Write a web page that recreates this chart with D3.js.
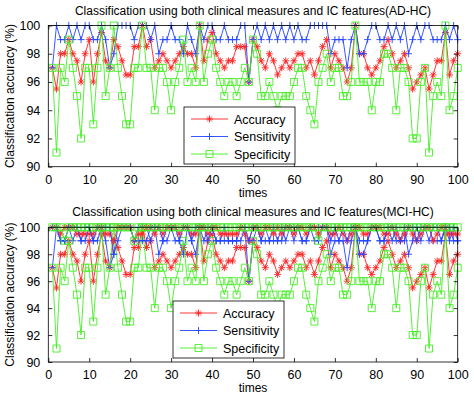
<!DOCTYPE html>
<html lang="en">
<head>
  <meta charset="UTF-8">
  <title>Classification accuracy</title>
  <style>
    body { margin: 0; background: #fff; }
    svg text { font-family: "Liberation Sans", Arial, sans-serif; fill: #000; }
  </style>
</head>
<body>
  <svg id="chart" width="474" height="399"></svg>

  <script src="https://d3js.org/d3.v7.min.js"></script>
  <script>
    // x values and labels
    const times = d3.range(1, 101);
    const xTicks = [0, 10, 20, 30, 40, 50, 60, 70, 80, 90, 100];
    const yTicks = [90, 92, 94, 96, 98, 100];
    const seriesNames = ["Accuracy", "Sensitivity", "Specificity"];
    const titles = [
      "Classification using both clinical measures and IC features(AD-HC)",
      "Classification using both clinical measures and IC features(MCI-HC)"
    ];

    // AD-HC run
    const adAccuracy = [97,95.5,98,98,99,98,97.5,96,98,99,
      96,98,99.5,97.5,97,99,98.5,97.5,96.5,96.5,
      98.5,98.5,100,98.5,99,97,97.5,98,97.5,97,
      97.5,98,98.5,98,98,97,100,97.5,99,99.5,
      98,97.5,97,97.5,97.5,98.5,98.5,98.5,96,99,
      98.5,97.5,97,98,97.5,96.5,97,97.5,97,97.5,
      98,98,97,97.5,96.5,97.5,98.5,99,97,98,
      97.5,97,96,97,100,98,98,97,96.5,97,
      97.5,98.5,99,98,97,97.5,98,97,95.5,96,
      96.5,97,95.5,96.5,97.5,97.5,99.5,96.5,97.5,98];
    const adSensitivity = [97,100,99,99,100,99,100,99,100,100,
      99,99,100,99,97,98,100,100,100,100,
      99,100,100,100,99,100,98,99,99,100,
      99,99,98,100,99,98,100,99,100,100,
      99,99,100,99,99,99,100,100,96,99,
      100,99,100,99,100,99,100,99,100,99,
      100,99,99,100,100,100,100,100,98,99,
      99,99,97,99,100,98,98,99,100,100,
      99,99,100,99,100,99,100,98,99,100,
      99,100,100,99,99,99,100,99,100,99];
    const adSpecificity = [97,91,97,96,99,97,95,92,97,97,
      93,97,100,95,97,100,97,95,93,93,
      97,97,100,97,97,94,97,97,96,94,
      96,97,99,96,97,96,100,96,98,99,
      97,96,95,96,96,95,96,97,96,99,
      98,95,95,96,95,94,95,95,95,96,
      97,97,95,94,93,96,97,98,96,97,
      97,95,95,96,100,96,96,96,94,96,
      96,98,98,97,94,97,97,96,92,92,
      96,97,91,95,96,95,100,94,95,97];

    // MCI-HC run (drawn on the bottom panel over the AD-HC lines)
    const mciAccuracy = [100,100,99.5,100,100,100,99.5,99.5,99.5,99.5,
      99.5,100,100,99.5,99.5,99,100,100,100,100,
      99,99.5,99.5,100,100,99.5,100,99.5,100,100,
      100,99.5,100,100,99.5,99.5,100,100,99.5,100,
      100,99.5,99.5,99.5,99.5,99.5,100,99.5,99,100,
      100,99.5,100,100,99.5,100,99.5,100,100,99.5,
      100,100,99.5,100,100,99.5,100,100,99.5,99.5,
      100,99.5,99,99.5,100,100,99.5,99.5,100,100,
      100,99.5,99.5,100,99.5,99,99.5,100,99.5,99,
      99.5,100,100,99,99.5,100,100,99.5,99.5,99.5];
    const mciSensitivity = [100,100,99,99,100,100,100,99,99,100,
      99,100,100,100,100,98,99,100,100,100,
      99,99,99,99,100,100,100,99,100,100,
      100,99,100,100,99,100,100,100,99,100,
      99,99,99,99,99,99,99,100,99,100,
      100,99,99,99,99,99,99,100,100,100,
      100,99,99,100,99,99,100,100,99,100,
      99,100,99,100,100,99,99,99,100,100,
      99,99,100,100,99,99,99,100,100,99,
      100,100,99,100,100,99,100,100,99,99];
    const mciSpecificity = [100,100,100,99,100,100,100,100,100,100,
      100,100,100,100,100,100,100,100,100,100,
      99,100,100,100,100,100,100,100,100,100,
      100,100,100,100,100,100,100,100,100,100,
      100,100,100,100,100,100,100,100,100,100,
      100,100,100,100,100,100,100,100,100,100,
      100,100,100,100,100,99,100,100,100,100,
      100,100,100,100,100,100,100,100,100,100,
      100,100,100,100,100,100,100,100,100,100,
      100,100,100,100,100,100,100,100,100,100];

    const styles = [
      { color: "#ff2222", marker: "star" },
      { color: "#2244ff", marker: "plus" },
      { color: "#44ee22", marker: "square" }
    ];

    const svg = d3.select("#chart");
    const x = d3.scaleLinear().domain([0, 100]).range([48.3, 457.7]);

    function markerPath(type) {
      const r = 3.5, a = 2.5;
      if (type === "star") return `M${-r},0L${r},0M0,${-r}L0,${r}M${-a},${-a}L${a},${a}M${-a},${a}L${a},${-a}`;
      if (type === "plus") return `M${-r},0L${r},0M0,${-r}L0,${r}`;
      return `M-3.5,-3.5H3.5V3.5H-3.5Z`;
    }

    function drawSeries(g, y, values, style) {
      const line = d3.line().x((d, i) => x(times[i])).y(d => y(d));
      g.append("path")
        .attr("d", line(values))
        .attr("fill", "none")
        .attr("stroke", style.color)
        .attr("stroke-width", 0.9);
      g.append("g")
        .selectAll("path")
        .data(values)
        .join("path")
        .attr("transform", (d, i) => `translate(${x(times[i])},${y(d)})`)
        .attr("d", markerPath(style.marker))
        .attr("fill", "none")
        .attr("stroke", style.color)
        .attr("stroke-width", 0.9);
    }

    function drawPanel(top, bottom, title, runs, legend) {
      const y = d3.scaleLinear().domain([90, 100]).range([bottom, top]);
      const g = svg.append("g");

      // data first, axes box drawn on top
      runs.forEach(run => run.forEach((values, k) => drawSeries(g, y, values, styles[k])));

      const axes = svg.append("g").attr("font-size", 11);
      axes.append("rect")
        .attr("x", x(0)).attr("y", y(100))
        .attr("width", x(100) - x(0)).attr("height", y(90) - y(100))
        .attr("fill", "none").attr("stroke", "#000").attr("stroke-width", 0.8);

      const xb = axes.append("g").attr("transform", `translate(0,${y(90)})`)
        .call(d3.axisBottom(x).tickValues(xTicks).tickSizeInner(-4).tickSizeOuter(0).tickPadding(8));
      const xt = axes.append("g").attr("transform", `translate(0,${y(100)})`)
        .call(d3.axisTop(x).tickValues(xTicks).tickSizeInner(-4).tickSizeOuter(0).tickFormat(""));
      const yl = axes.append("g").attr("transform", `translate(${x(0)},0)`)
        .call(d3.axisLeft(y).tickValues(yTicks).tickSizeInner(-4).tickSizeOuter(0).tickPadding(8));
      const yr = axes.append("g").attr("transform", `translate(${x(100)},0)`)
        .call(d3.axisRight(y).tickValues(yTicks).tickSizeInner(-4).tickSizeOuter(0).tickFormat(""));
      [xb, xt, yl, yr].forEach(a => {
        a.select(".domain").remove();
        a.selectAll("text").attr("font-size", 12.5).attr("fill", "#000")
          .attr("font-family", "Liberation Sans, Arial, sans-serif");
        a.selectAll("line").attr("stroke", "#000").attr("stroke-width", 0.8);
      });

      axes.append("text")
        .attr("x", 253).attr("y", top - 11)
        .attr("text-anchor", "middle").attr("font-size", 12)
        .text(title);
      axes.append("text")
        .attr("x", 253).attr("y", bottom + 30)
        .attr("text-anchor", "middle").attr("font-size", 12)
        .text("times");
      axes.append("text")
        .attr("transform", `translate(14,${(top + bottom) / 2}) rotate(-90)`)
        .attr("text-anchor", "middle").attr("font-size", 12)
        .text("Classification accuracy (%)");

      // legend
      const lg = svg.append("g").attr("transform", `translate(${legend.x},${legend.y})`);
      lg.append("rect")
        .attr("width", 111).attr("height", 57)
        .attr("fill", "#fff").attr("stroke", "#000").attr("stroke-width", 0.8);
      seriesNames.forEach((name, k) => {
        const cy = 12 + k * 17.5;
        lg.append("line")
          .attr("x1", 7).attr("x2", 44).attr("y1", cy).attr("y2", cy)
          .attr("stroke", styles[k].color).attr("stroke-width", 0.9);
        lg.append("path")
          .attr("transform", `translate(25.5,${cy})`)
          .attr("d", markerPath(styles[k].marker))
          .attr("fill", "none").attr("stroke", styles[k].color).attr("stroke-width", 0.9);
        lg.append("text")
          .attr("x", 50).attr("y", cy + 4.5)
          .attr("font-size", 12.5)
          .text(name);
      });
    }

    drawPanel(25.5, 166.7, titles[0],
      [[adAccuracy, adSensitivity, adSpecificity]],
      { x: 184, y: 107 });
    drawPanel(227.3, 362, titles[1],
      [[adAccuracy, adSensitivity, adSpecificity], [mciAccuracy, mciSensitivity, mciSpecificity]],
      { x: 173, y: 301 });
  </script>
</body>
</html>
